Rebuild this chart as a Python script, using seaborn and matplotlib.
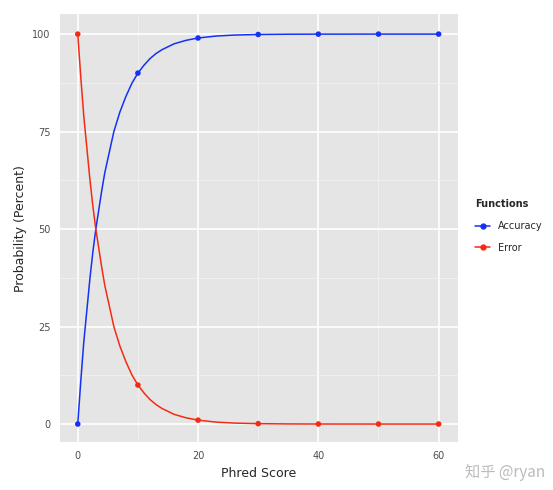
import matplotlib
matplotlib.use("Agg")
import matplotlib.pyplot as plt
import seaborn as sns
import pandas as pd
from matplotlib.lines import Line2D

# observed points
phred = [0, 10, 20, 30, 40, 50, 60]
accuracy = [0, 90, 99, 99.9, 99.99, 99.999, 99.9999]
error = [100, 10, 1, 0.1, 0.01, 0.001, 0.0001]

# curve values
curve_q = [0, 0.5, 1, 1.5, 2, 2.5, 3, 3.5, 4, 4.5, 5, 6, 7, 8, 9, 10, 11, 12, 13, 14, 16, 18, 20,
           23, 26, 30, 35, 40, 50, 60]
curve_err = [100, 89, 79, 71, 63, 56, 50, 45, 40, 35.5, 32, 25, 20, 16, 12.6, 10, 8, 6.3, 5, 4,
             2.5, 1.6, 1, 0.5, 0.25, 0.1, 0.03, 0.01, 0.001, 0.0001]
curve_acc = [100 - e for e in curve_err]

blue = "#1431F5"
red = "#F42B14"

sns.set_style("darkgrid", {"axes.facecolor": "#E5E5E5", "grid.color": "white"})
plt.rcParams["font.family"] = ["DejaVu Sans", "Noto Sans CJK SC"]

fig = plt.figure(figsize=(5.53, 4.9), dpi=100)
ax = fig.add_axes([0.108, 0.098, 0.72, 0.873])

curves = pd.DataFrame({"q": curve_q * 2, "v": curve_acc + curve_err,
                       "f": ["Accuracy"] * len(curve_q) + ["Error"] * len(curve_q)})
pts = pd.DataFrame({"q": phred * 2, "v": accuracy + error,
                    "f": ["Accuracy"] * len(phred) + ["Error"] * len(phred)})
pal = {"Accuracy": blue, "Error": red}
sns.lineplot(data=curves, x="q", y="v", hue="f", palette=pal, lw=1.1, ax=ax, legend=False)
sns.scatterplot(data=pts, x="q", y="v", hue="f", palette=pal, s=16, edgecolor="none", ax=ax, legend=False, zorder=3)

ax.set_xlim(-3, 63.2)
ax.set_ylim(-4.6, 105.1)
ax.set_xticks([0, 20, 40, 60])
ax.set_yticks([0, 25, 50, 75, 100])
ax.set_xticks([10, 30, 50], minor=True)
ax.set_yticks([12.5, 37.5, 62.5, 87.5], minor=True)
ax.grid(which="major", color="white", lw=1.2)
ax.grid(which="minor", color="#F2F2F2", lw=0.6)
ax.tick_params(axis="both", labelsize=7, colors="#4D4D4D", length=3, which="major")
ax.tick_params(axis="both", which="minor", length=0)
for s in ax.spines.values():
    s.set_visible(False)
ax.set_xlabel("Phred Score", fontsize=9)
ax.set_ylabel("Probability (Percent)", fontsize=9)

handles = [Line2D([], [], color=blue, marker="o", ms=3.5, lw=1.1, label="Accuracy"),
           Line2D([], [], color=red, marker="o", ms=3.5, lw=1.1, label="Error")]
leg = fig.legend(handles=handles, title="Functions", loc="upper left",
                 bbox_to_anchor=(0.843, 0.611), frameon=False, fontsize=7,
                 title_fontproperties={"weight": "bold", "size": 7}, labelspacing=1.2,
                 handlelength=1.6)
leg._legend_box.align = "left"

fig.text(0.985, 0.035, "知乎 @ryan", ha="right", va="center", fontsize=11, color="#BBBBBB",
         family=["Noto Sans CJK SC", "DejaVu Sans"])

fig.savefig("out.png", dpi=100)
